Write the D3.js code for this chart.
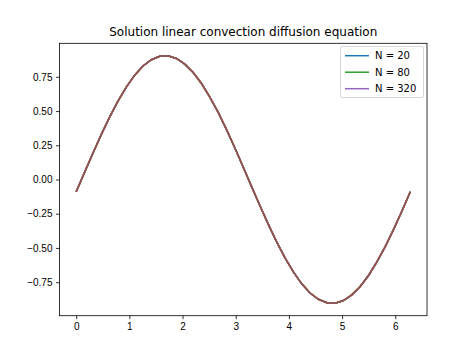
<!DOCTYPE html>
<html lang="en">
<head>
<meta charset="UTF-8" />
<title>Solution linear convection diffusion equation</title>
<script src="https://d3js.org/d3.v7.min.js"></script>
<style>
    body { margin: 0; background: #fff; }
    svg { font-family: "DejaVu Sans", sans-serif; }
    .axis path, .axis line { stroke: #000; stroke-width: 0.8; }
    .axis text { font-size: 10px; fill: #000; }
    .legend text { font-size: 10px; fill: #000; }
</style>
</head>
<body>
<script>
// readings on 41 nodes over [0, 2pi]
const xVals = d3.range(41).map(i => i * 0.15708);
const yRead = [-0.090, 0.052, 0.192, 0.328, 0.456, 0.573, 0.675, 0.762, 0.829, 0.875,
    0.900, 0.904, 0.884, 0.843, 0.781, 0.701, 0.602, 0.490, 0.364, 0.230,
    0.090, -0.052, -0.192, -0.328, -0.456, -0.573, -0.675, -0.762, -0.829, -0.875,
    -0.900, -0.904, -0.884, -0.843, -0.781, -0.701, -0.602, -0.490, -0.364, -0.230, -0.090];
// all curves sit on top of each other in the picture
const yN20 = yRead;
const yN80 = yRead;
const yN320 = yRead;
const yExact = yRead;

const xTicks = [0, 1, 2, 3, 4, 5, 6];
const yTicks = [-0.75, -0.5, -0.25, 0, 0.25, 0.5, 0.75];

// plotted in matplotlib order: numeric, exact, numeric, exact ...
const series = [
    { label: "N = 20", y: yN20, color: "#1f77b4" },
    { label: null, y: yExact, color: "#ff7f0e" },
    { label: "N = 80", y: yN80, color: "#2ca02c" },
    { label: null, y: yExact, color: "#d62728" },
    { label: "N = 320", y: yN320, color: "#9467bd" },
    { label: null, y: yExact, color: "#8c564b" }
];

const W = 474, H = 355;
const L = 59.5, R = 427, T = 43.3, B = 315.7;

const svg = d3.select("body").append("svg")
    .attr("width", W).attr("height", H);

const xs = d3.scaleLinear().domain([-0.314, 6.597]).range([L, R]);
const ys = d3.scaleLinear().domain([-0.995, 0.995]).range([B, T]);

const line = d3.line().x(d => xs(d[0])).y(d => ys(d[1]));

svg.append("g").selectAll("path")
    .data(series)
    .enter().append("path")
    .attr("fill", "none")
    .attr("stroke", d => d.color)
    .attr("stroke-width", 1.5)
    .attr("d", d => line(xVals.map((v, i) => [v, d.y[i]])));

svg.append("g")
    .attr("class", "axis")
    .attr("transform", `translate(0,${B})`)
    .call(d3.axisBottom(xs).tickValues(xTicks).tickSize(3.5).tickPadding(3.5).tickFormat(d3.format("d")))
    .call(g => g.select(".domain").remove());

svg.append("g")
    .attr("class", "axis")
    .attr("transform", `translate(${L},0)`)
    .call(d3.axisLeft(ys).tickValues(yTicks).tickSize(3.5).tickPadding(3.5).tickFormat(d3.format(".2f")))
    .call(g => g.select(".domain").remove());

// axes frame
svg.append("rect")
    .attr("x", L).attr("y", T)
    .attr("width", R - L).attr("height", B - T)
    .attr("fill", "none").attr("stroke", "#000").attr("stroke-width", 0.8);

svg.append("text")
    .attr("x", (L + R) / 2).attr("y", 36)
    .attr("text-anchor", "middle")
    .style("font-size", "12px")
    .text("Solution linear convection diffusion equation");

// legend
const labelled = series.filter(d => d.label);
const leg = svg.append("g").attr("class", "legend");
leg.append("rect")
    .attr("x", 340.5).attr("y", 46.5)
    .attr("width", 83).attr("height", 51)
    .attr("rx", 2)
    .attr("fill", "#fff").attr("fill-opacity", 0.8)
    .attr("stroke", "#ccc").attr("stroke-width", 0.8);

const rows = leg.selectAll("g.row")
    .data(labelled)
    .enter().append("g")
    .attr("class", "row")
    .attr("transform", (d, i) => `translate(0,${55.7 + i * 16.5})`);

rows.append("line")
    .attr("x1", 345).attr("x2", 369)
    .attr("stroke", d => d.color).attr("stroke-width", 1.5);

rows.append("text")
    .attr("x", 375).attr("y", 3.6)
    .text(d => d.label);
</script>
</body>
</html>
